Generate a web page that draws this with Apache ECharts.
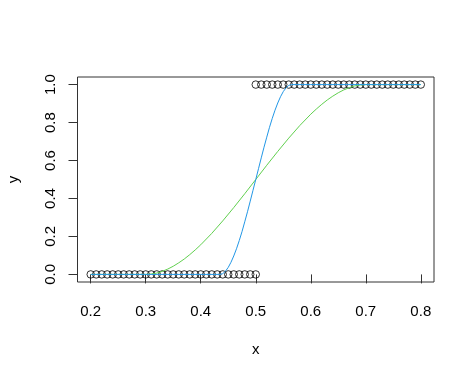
<!DOCTYPE html>
<html>
<head>
<meta charset="utf-8">
<script src="https://cdn.jsdelivr.net/npm/echarts@6/dist/echarts.min.js"></script>
<style>html,body{margin:0;padding:0;background:#fff}#c{width:474px;height:379px}</style>
</head>
<body>
<div id="c"></div>
<script>
// Observed points: y = 0 for x in [0.20, 0.50], y = 1 for x in [0.50, 0.80]
const xZero = [0.20,0.21,0.22,0.23,0.24,0.25,0.26,0.27,0.28,0.29,0.30,0.31,0.32,0.33,0.34,0.35,0.36,0.37,0.38,0.39,0.40,0.41,0.42,0.43,0.44,0.45,0.46,0.47,0.48,0.49,0.50];
const xOne  = [0.50,0.51,0.52,0.53,0.54,0.55,0.56,0.57,0.58,0.59,0.60,0.61,0.62,0.63,0.64,0.65,0.66,0.67,0.68,0.69,0.70,0.71,0.72,0.73,0.74,0.75,0.76,0.77,0.78,0.79,0.80];
const yZero = xZero.map(() => 0);
const yOne  = xOne.map(() => 1);

// Green curve
const greenX = [0.20,0.25,0.30,0.31,0.32,0.33,0.34,0.35,0.36,0.37,0.38,0.39,0.40,0.42,0.44,0.46,0.48,0.50,0.52,0.54,0.56,0.58,0.60,0.61,0.62,0.63,0.64,0.65,0.66,0.67,0.68,0.69,0.70,0.75,0.80];
const greenY = [0,0,0,0.002,0.007,0.016,0.028,0.043,0.061,0.081,0.104,0.129,0.156,0.216,0.282,0.352,0.425,0.5,0.575,0.648,0.718,0.784,0.844,0.871,0.896,0.919,0.939,0.957,0.972,0.984,0.993,0.998,1,1,1];

// Blue curve
const blueX = [0.20,0.30,0.40,0.435,0.44,0.445,0.45,0.455,0.46,0.465,0.47,0.475,0.48,0.485,0.49,0.495,0.50,0.505,0.51,0.515,0.52,0.525,0.53,0.535,0.54,0.545,0.55,0.555,0.56,0.565,0.60,0.70,0.80];
const blueY = [0,0,0,0,0.004,0.017,0.037,0.064,0.097,0.135,0.178,0.225,0.277,0.330,0.386,0.443,0.5,0.557,0.614,0.670,0.723,0.775,0.822,0.865,0.903,0.936,0.963,0.983,0.996,1,1,1,1];

const xTicks = [0.2,0.3,0.4,0.5,0.6,0.7,0.8];
const yTicks = [0,0.2,0.4,0.6,0.8,1.0];

const zip = (a, b) => a.map((v, i) => [v, b[i]]);
const FONT = "'Liberation Sans', Arial, Helvetica, sans-serif";

const chart = echarts.init(document.getElementById('c'), null, {renderer: 'canvas'});
chart.setOption({
  animation: false,
  backgroundColor: '#fff',
  grid: {left: 77.5, right: 40, top: 77, bottom: 97, outerBoundsMode: 'none', containLabel: false,
         show: true, borderColor: '#333', borderWidth: 1, backgroundColor: 'transparent'},
  xAxis: {
    type: 'value', min: 0.176, max: 0.824,
    name: 'x', nameLocation: 'middle', nameGap: 60,
    nameTextStyle: {fontFamily: FONT, fontSize: 15, color: '#000'},
    axisLine: {show: false},
    splitLine: {show: false},
    axisTick: {show: true, inside: false, length: 9, customValues: xTicks, lineStyle: {color: '#333', width: 1}},
    axisLabel: {customValues: xTicks, margin: 22, fontFamily: FONT, fontSize: 15, color: '#000', formatter: v => v.toFixed(1)}
  },
  yAxis: {
    type: 'value', min: -0.04, max: 1.04,
    name: 'y', nameLocation: 'middle', nameGap: 56, nameRotate: 90,
    nameTextStyle: {fontFamily: FONT, fontSize: 15, color: '#000'},
    axisLine: {show: false},
    splitLine: {show: false},
    axisTick: {show: true, inside: false, length: 9, customValues: yTicks, lineStyle: {color: '#333', width: 1}},
    axisLabel: {customValues: yTicks, rotate: 90, margin: 19, fontFamily: FONT, fontSize: 15, color: '#000', formatter: v => v.toFixed(1)}
  },
  series: [
    {type: 'scatter', data: zip(xZero, yZero), symbol: 'circle', symbolSize: 7.5,
     itemStyle: {color: 'rgba(0,0,0,0)', borderColor: '#000', borderWidth: 1}, z: 2},
    {type: 'scatter', data: zip(xOne, yOne), symbol: 'circle', symbolSize: 7.5,
     itemStyle: {color: 'rgba(0,0,0,0)', borderColor: '#000', borderWidth: 1}, z: 2},
    {type: 'line', data: zip(greenX, greenY), showSymbol: false, smooth: false,
     lineStyle: {color: '#61D04F', width: 1}, z: 3},
    {type: 'line', data: zip(blueX, blueY), showSymbol: false, smooth: false,
     lineStyle: {color: '#2297E6', width: 1}, z: 3}
  ]
});
</script>
</body>
</html>
